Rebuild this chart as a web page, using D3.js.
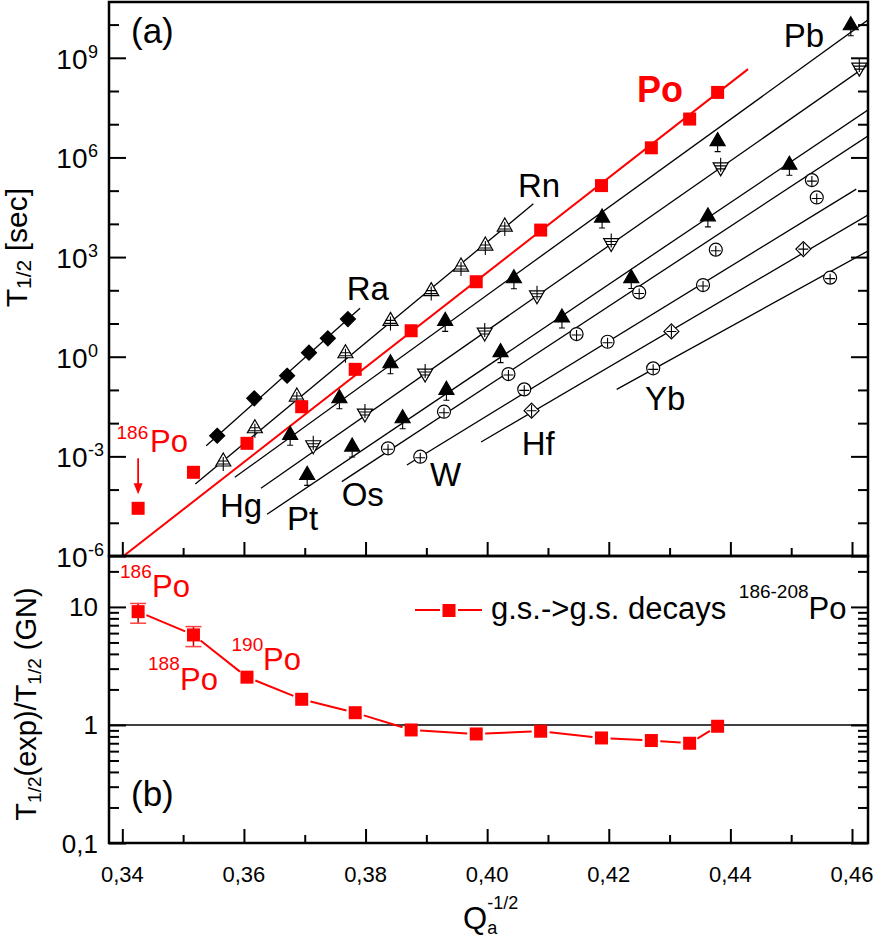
<!DOCTYPE html>
<html>
<head>
<meta charset="utf-8">
<script src="https://cdnjs.cloudflare.com/ajax/libs/d3/7.8.5/d3.min.js"></script>
<style>
  body { margin: 0; background: #fff; }
  svg { display: block; font-family: "Liberation Sans", Arial, Helvetica, sans-serif; }
</style>
</head>
<body>
<div id="chart"></div>
<script>
// data: [Q^-1/2, T1/2 in s]
const raPts = [[0.3556, 4.18e-3], [0.3617, 5.58e-2], [0.3671, 0.267], [0.3707, 1.32], [0.3738, 3.57], [0.3771, 13.6]];
const rnPts = [[0.3566, 7.76e-4], [0.3618, 7.80e-3], [0.3687, 7.01e-2], [0.3767, 1.41], [0.3841, 13.3], [0.3908, 105], [0.3957, 575], [0.3997, 2470], [0.4029, 9200]];
const poPts = [[0.3426, 2.73e-5], [0.3517, 3.31e-4], [0.3605, 2.47e-3], [0.3695, 3.12e-2], [0.3783, 0.417], [0.3875, 6.05], [0.3982, 181], [0.4088, 6500], [0.4188, 1.42e5], [0.4270, 1.95e6], [0.4333, 1.43e7], [0.4379, 9.08e7]];
const pbPts = [[0.3676, 4.94e-3], [0.3757, 6.24e-2], [0.3841, 0.706], [0.3931, 13.3], [0.4044, 256], [0.4189, 1.72e4], [0.4379, 3.45e6], [0.4598, 1.06e10]];
const hgPts = [[0.3714, 1.95e-3], [0.3799, 1.75e-2], [0.3898, 0.281], [0.3996, 4.82], [0.4082, 63.8], [0.4204, 2380], [0.4384, 4.53e5], [0.4612, 4.57e8]];
const ptPts = [[0.3704, 3.08e-4], [0.3778, 2.19e-3], [0.3861, 1.56e-2], [0.3933, 0.112], [0.4022, 1.53], [0.4123, 16.8], [0.4237, 259], [0.4363, 1.87e4], [0.4497, 6.71e5]];
const osPts = [[0.3837, 1.75e-3], [0.3929, 2.21e-2], [0.4035, 0.301], [0.4147, 4.82], [0.4250, 86.1], [0.4376, 1670], [0.4534, 2.08e5]];
const wPts  = [[0.3890, 9.75e-4], [0.4061, 0.104], [0.4198, 2.82], [0.4355, 144], [0.4542, 6.24e4]];
const hfPts = [[0.4073, 2.37e-2], [0.4303, 5.77], [0.4520, 1740]];
const ybPts = [[0.4273, 0.447], [0.4564, 240]];

// fitted lines, two end points each
const raFit = [[0.3538, 2.09e-3], [0.3791, 28.6]];
const rnFit = [[0.3520, 1.47e-4], [0.4076, 4.03e4]];
const poFit = [[0.3402, 1e-6], [0.4429, 4.57e8]];
const pbFit = [[0.3585, 2.34e-4], [0.4626, 1.36e10]];
const hgFit = [[0.3628, 1.09e-4], [0.4626, 6.03e8]];
const ptFit = [[0.3638, 1.80e-5], [0.4626, 2.66e7]];
const osFit = [[0.3761, 1.73e-4], [0.4626, 4.40e6]];
const wFit  = [[0.3868, 5.48e-4], [0.4607, 1.11e5]];
const hfFit = [[0.3990, 2.70e-3], [0.4626, 1.84e4]];
const ybFit = [[0.4213, 0.104], [0.4626, 1520]];

// panel (b): T1/2(exp)/T1/2(GN) for the Po chain
const poRatio = [9.12, 5.79, 2.54, 1.65, 1.27, 0.907, 0.839, 0.885, 0.776, 0.738, 0.700, 0.975];
const poRatioErr = [[7.28, 10.7], [4.61, 6.81]];

// ticks
const xMajor = [0.34, 0.36, 0.38, 0.40, 0.42, 0.44, 0.46];
const xMinor = [0.35, 0.37, 0.39, 0.41, 0.43, 0.45];
const xLabels = ["0,34", "0,36", "0,38", "0,40", "0,42", "0,44", "0,46"];
const yTopMajor = [1e-6, 1e-3, 1, 1e3, 1e6, 1e9];
const yTopExp = ["-6", "-3", "0", "3", "6", "9"];
const yTopMinor = [1e-5, 1e-4, 1e-2, 1e-1, 10, 100, 1e4, 1e5, 1e7, 1e8, 1e10];
const yBotMajor = [0.1, 1, 10];
const yBotLabels = ["0,1", "1", "10"];
const yBotMinor = [0.2, 0.3, 0.4, 0.5, 0.6, 0.7, 0.8, 0.9, 2, 3, 4, 5, 6, 7, 8, 9, 20];

const W = 875, H = 941;
const M = { L: 109, R: 868, T: 2, MID: 556, B: 843 };

const x = d3.scaleLinear().domain([0.33781, 0.46263]).range([M.L, M.R]);
const yTop = d3.scaleLog().domain([1e-6, Math.pow(10, 10.68)]).range([M.MID, M.T]);
const yBot = d3.scaleLog().domain([0.1, 27]).range([M.B, M.MID]);

const svg = d3.select("#chart").append("svg")
  .attr("width", W).attr("height", H);

const defs = svg.append("defs");
defs.append("clipPath").attr("id", "clipTop").append("rect")
  .attr("x", M.L).attr("y", M.T).attr("width", M.R - M.L).attr("height", M.MID - M.T);
defs.append("clipPath").attr("id", "clipBot").append("rect")
  .attr("x", M.L).attr("y", M.MID).attr("width", M.R - M.L).attr("height", M.B - M.MID);

//marker shapes
const circ = "M6.5,0A6.5,6.5 0 1,1 -6.5,0A6.5,6.5 0 1,1 6.5,0Z";
const shapes = {
  diamondFill: { d: "M0,-7.5L7.5,0L0,7.5L-7.5,0Z", fill: "#000", err: null },
  triOpen:     { d: "M0,-7L7.5,6L-7.5,6Z", fill: "#fff", err: "M0,-3V11M-5,1H5M-6,4H6" },
  triFill:     { d: "M0,-7L7.5,6L-7.5,6Z", fill: "#000", err: "M0,6V12M-3,12H3" },
  triDown:     { d: "M0,7L7.5,-6L-7.5,-6Z", fill: "#fff", err: "M0,-11V3M-6,-3H6M-5,0H5" },
  circle:      { d: circ, fill: "#fff", err: "M-5,1H5M0,-4V6" },
  diamondOpen: { d: "M0,-7.5L7.5,0L0,7.5L-7.5,0Z", fill: "#fff", err: "M-5,0H5M0,-6V6" }
};

const series = [
  { pts: raPts, fit: raFit, shape: "diamondFill" },
  { pts: rnPts, fit: rnFit, shape: "triOpen" },
  { pts: pbPts, fit: pbFit, shape: "triFill" },
  { pts: hgPts, fit: hgFit, shape: "triDown" },
  { pts: ptPts, fit: ptFit, shape: "triFill" },
  { pts: osPts, fit: osFit, shape: "circle" },
  { pts: wPts,  fit: wFit,  shape: "circle" },
  { pts: hfPts, fit: hfFit, shape: "diamondOpen" },
  { pts: ybPts, fit: ybFit, shape: "circle" }
];

const lineTop = d3.line().x(d => x(d[0])).y(d => yTop(d[1]));

// ---------- panel (a) ----------
const panelA = svg.append("g").attr("clip-path", "url(#clipTop)");

panelA.selectAll("path.fit")
  .data(series)
  .enter().append("path")
  .attr("class", "fit")
  .attr("d", d => lineTop(d.fit))
  .attr("fill", "none").attr("stroke", "#000").attr("stroke-width", 1.3);

panelA.append("path")
  .attr("d", lineTop(poFit))
  .attr("fill", "none").attr("stroke", "#ff0000").attr("stroke-width", 2);

series.forEach(s => {
  const sh = shapes[s.shape];
  const g = panelA.selectAll(null).data(s.pts).enter().append("g")
    .attr("transform", d => `translate(${x(d[0])},${yTop(d[1])})`);
  g.append("path").attr("d", sh.d)
    .attr("fill", sh.fill).attr("stroke", "#000").attr("stroke-width", 1.2);
  if (sh.err) {
    g.append("path").attr("d", sh.err)
      .attr("fill", "none").attr("stroke", "#000").attr("stroke-width", 1.1);
  }
});

panelA.selectAll("rect.po")
  .data(poPts)
  .enter().append("rect")
  .attr("class", "po")
  .attr("x", d => x(d[0]) - 6.5).attr("y", d => yTop(d[1]) - 6.5)
  .attr("width", 13).attr("height", 13)
  .attr("fill", "#ff0000");

// arrow to 186Po
const ax = x(poPts[0][0]), ay = yTop(poPts[0][1]);
svg.append("line")
  .attr("x1", ax).attr("x2", ax).attr("y1", ay - 50).attr("y2", ay - 22)
  .attr("stroke", "#ff0000").attr("stroke-width", 1.8);
svg.append("path")
  .attr("d", `M${ax - 4.5},${ay - 25}L${ax + 4.5},${ay - 25}L${ax},${ay - 14}Z`)
  .attr("fill", "#ff0000");

// element labels
const elemLabels = [
  ["Ra", 346.7, 300], ["Rn", 518, 197], ["Pb", 783.7, 47], ["Hg", 220, 517],
  ["Pt", 287, 530], ["Os", 341.7, 506], ["W", 430, 486], ["Hf", 521.7, 455], ["Yb", 645, 410]
];
svg.selectAll("text.elem")
  .data(elemLabels)
  .enter().append("text")
  .attr("class", "elem")
  .attr("x", d => d[1]).attr("y", d => d[2])
  .attr("font-size", 33)
  .text(d => d[0]);

svg.append("text")
  .attr("x", 637).attr("y", 102)
  .attr("font-size", 36).attr("font-weight", "bold").attr("fill", "#ff0000")
  .text("Po");

const t186 = svg.append("text").attr("fill", "#ff0000");
t186.append("tspan").attr("x", 116.5).attr("y", 439).attr("font-size", 19).text("186");
t186.append("tspan").attr("x", 150).attr("y", 452).attr("font-size", 31).text("Po");

svg.append("text").attr("x", 131).attr("y", 43).attr("font-size", 35).text("(a)");

// ---------- panel (b) ----------
const panelB = svg.append("g").attr("clip-path", "url(#clipBot)");

panelB.append("line")
  .attr("x1", M.L).attr("x2", M.R).attr("y1", yBot(1)).attr("y2", yBot(1))
  .attr("stroke", "#000").attr("stroke-width", 1.5);

const ratioPx = poPts.map((p, i) => [x(p[0]), yBot(poRatio[i])]);
const gap = 9;
const segs = d3.pairs(ratioPx).map(([a, b]) => {
  const dx = b[0] - a[0], dy = b[1] - a[1];
  const len = Math.hypot(dx, dy);
  const ux = dx / len, uy = dy / len;
  return [[a[0] + ux * gap, a[1] + uy * gap], [b[0] - ux * gap, b[1] - uy * gap]];
});
panelB.selectAll("path.seg")
  .data(segs)
  .enter().append("path")
  .attr("class", "seg")
  .attr("d", d3.line())
  .attr("stroke", "#ff0000").attr("stroke-width", 2).attr("fill", "none");

// error bars for 186Po, 188Po
poRatioErr.forEach((e, i) => {
  const cx = x(poPts[i][0]);
  panelB.append("line")
    .attr("x1", cx).attr("x2", cx).attr("y1", yBot(e[0])).attr("y2", yBot(e[1]))
    .attr("stroke", "#b00000").attr("stroke-width", 1.5);
  [e[0], e[1]].forEach(v => {
    panelB.append("line")
      .attr("x1", cx - 8).attr("x2", cx + 8).attr("y1", yBot(v)).attr("y2", yBot(v))
      .attr("stroke", "#ff4040").attr("stroke-width", 1.5);
  });
});

panelB.selectAll("rect.ratio")
  .data(ratioPx)
  .enter().append("rect")
  .attr("class", "ratio")
  .attr("x", d => d[0] - 6.5).attr("y", d => d[1] - 6.5)
  .attr("width", 13).attr("height", 13)
  .attr("fill", "#ff0000");

// isotope labels
const isoLabels = [["186", 120, 578, 152, 597], ["188", 148, 670, 180, 690], ["190", 231.5, 651, 263, 670]];
isoLabels.forEach(d => {
  const t = svg.append("text").attr("fill", "#ff0000");
  t.append("tspan").attr("x", d[1]).attr("y", d[2]).attr("font-size", 19).text(d[0]);
  t.append("tspan").attr("x", d[3]).attr("y", d[4]).attr("font-size", 31).text("Po");
});

// legend
svg.append("line").attr("x1", 415).attr("x2", 440).attr("y1", 610).attr("y2", 610)
  .attr("stroke", "#ff0000").attr("stroke-width", 2);
svg.append("line").attr("x1", 458).attr("x2", 482).attr("y1", 610).attr("y2", 610)
  .attr("stroke", "#ff0000").attr("stroke-width", 2);
svg.append("rect").attr("x", 442.5).attr("y", 604).attr("width", 13).attr("height", 13)
  .attr("fill", "#ff0000");
const leg = svg.append("text").attr("x", 491).attr("y", 619).attr("font-size", 31);
leg.append("tspan").text("g.s.->g.s. decays ");
leg.append("tspan").attr("font-size", 19).attr("dy", -21).attr("dx", 4).text("186-208");
leg.append("tspan").attr("dy", 21).text("Po");

svg.append("text").attr("x", 131).attr("y", 806).attr("font-size", 35).text("(b)");

// ---------- axes ----------
function tickAxis(axis, tx, ty) {
  svg.append("g")
    .attr("transform", `translate(${tx},${ty})`)
    .call(axis)
    .call(g => g.select(".domain").remove())
    .call(g => g.selectAll(".tick line").attr("stroke", "#000").attr("stroke-width", 2));
}

// top panel y
tickAxis(d3.axisLeft(yTop).tickValues(yTopMajor).tickSize(-17).tickFormat(""), M.L, 0);
tickAxis(d3.axisLeft(yTop).tickValues(yTopMinor).tickSize(-10).tickFormat(""), M.L, 0);
tickAxis(d3.axisRight(yTop).tickValues(yTopMajor).tickSize(-17).tickFormat(""), M.R, 0);
tickAxis(d3.axisRight(yTop).tickValues(yTopMinor).tickSize(-10).tickFormat(""), M.R, 0);
// x ticks on both panel bottoms
[M.MID, M.B].forEach(yy => {
  tickAxis(d3.axisBottom(x).tickValues(xMajor).tickSize(-14).tickFormat(""), 0, yy);
  tickAxis(d3.axisBottom(x).tickValues(xMinor).tickSize(-8).tickFormat(""), 0, yy);
});
// bottom panel y
tickAxis(d3.axisLeft(yBot).tickValues(yBotMajor).tickSize(-17).tickFormat(""), M.L, 0);
tickAxis(d3.axisLeft(yBot).tickValues(yBotMinor).tickSize(-10).tickFormat(""), M.L, 0);
tickAxis(d3.axisRight(yBot).tickValues(yBotMajor).tickSize(-17).tickFormat(""), M.R, 0);
tickAxis(d3.axisRight(yBot).tickValues(yBotMinor).tickSize(-10).tickFormat(""), M.R, 0);

// frames
svg.append("rect").attr("x", M.L).attr("y", M.T).attr("width", M.R - M.L).attr("height", M.MID - M.T)
  .attr("fill", "none").attr("stroke", "#000").attr("stroke-width", 2.5);
svg.append("rect").attr("x", M.L).attr("y", M.MID).attr("width", M.R - M.L).attr("height", M.B - M.MID)
  .attr("fill", "none").attr("stroke", "#000").attr("stroke-width", 2.5);

// tick labels
svg.selectAll("text.xl")
  .data(xMajor)
  .enter().append("text")
  .attr("class", "xl")
  .attr("x", d => x(d)).attr("y", 882)
  .attr("text-anchor", "middle").attr("font-size", 22)
  .text((d, i) => xLabels[i]);

yTopMajor.forEach((v, i) => {
  const yy = yTop(v);
  svg.append("text").attr("x", 87.5).attr("y", yy + 11)
    .attr("text-anchor", "end").attr("font-size", 28).text("10");
  svg.append("text").attr("x", 88).attr("y", yy).attr("font-size", 18).text(yTopExp[i]);
});

svg.selectAll("text.yb")
  .data(yBotMajor)
  .enter().append("text")
  .attr("class", "yb")
  .attr("x", 98).attr("y", d => yBot(d) + 9.5)
  .attr("text-anchor", "end").attr("font-size", 26)
  .text((d, i) => yBotLabels[i]);

// axis titles
const ty = svg.append("text")
  .attr("transform", "translate(27,188) rotate(-90)")
  .attr("text-anchor", "end").attr("font-size", 30);
ty.append("tspan").text("T");
ty.append("tspan").attr("font-size", 21).attr("dy", 4).text("1/2");
ty.append("tspan").attr("dy", -4).text(" [sec]");

const tb = svg.append("text")
  .attr("transform", "translate(36,704) rotate(-90)")
  .attr("text-anchor", "middle").attr("font-size", 29);
tb.append("tspan").text("T");
tb.append("tspan").attr("font-size", 19).attr("dy", 5).text("1/2");
tb.append("tspan").attr("dy", -5).text("(exp)/T");
tb.append("tspan").attr("font-size", 19).attr("dy", 5).text("1/2");
tb.append("tspan").attr("dy", -5).text(" (GN)");

const tx = svg.append("text").attr("x", 463).attr("y", 929).attr("font-size", 31);
tx.append("tspan").text("Q");
tx.append("tspan").attr("font-size", 18).attr("dy", 5).text("a");
tx.append("tspan").attr("font-size", 18).attr("dx", -10).attr("dy", -25).text("-1/2");
</script>
</body>
</html>
